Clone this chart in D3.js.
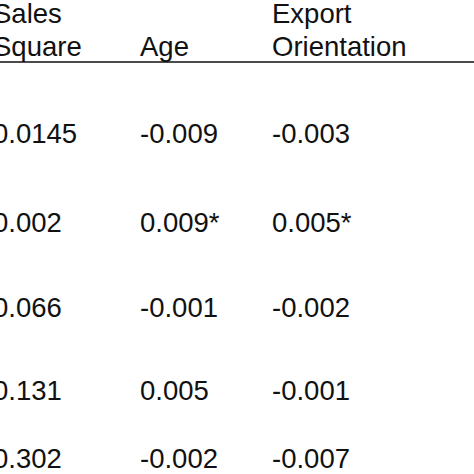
<!DOCTYPE html>
<html><head><meta charset="utf-8">
<script src="https://cdn.jsdelivr.net/npm/d3@7"></script>
<style>body{margin:0;background:#fff}</style></head>
<body><svg id="c" width="474" height="474"></svg>
<script>
const headers1 = ["Sales", "", "Export"];
const headers2 = ["Square", "Age", "Orientation"];
const salesSquare = ["0.0145", "0.002", "0.066", "0.131", "0.302"];
const age = ["-0.009", "0.009*", "-0.001", "0.005", "-0.002"];
const exportOrientation = ["-0.003", "0.005*", "-0.002", "-0.001", "-0.007"];
const columns = [salesSquare, age, exportOrientation];

const svg = d3.select("#c");
const font = "'Liberation Sans', Arial, sans-serif";
const x = d3.scaleOrdinal().domain([0,1,2]).range([-7, 140, 272]);
const yVals = [143, 232, 317, 400, 468];

function txt(xx, yy, t){
  svg.append("text").attr("x", xx).attr("y", yy).text(t)
    .attr("font-family", font).attr("font-size", 27.5).attr("fill", "#111");
}
headers1.forEach((h,i)=>{ if(h) txt(x(i), 23, h); });
headers2.forEach((h,i)=>txt(x(i), 56, h));
svg.append("line").attr("x1",0).attr("x2",474).attr("y1",62).attr("y2",62)
  .attr("stroke","#111").attr("stroke-width",1.5);
columns.forEach((col,i)=>col.forEach((v,j)=>txt(x(i), yVals[j], v)));
</script></body></html>
